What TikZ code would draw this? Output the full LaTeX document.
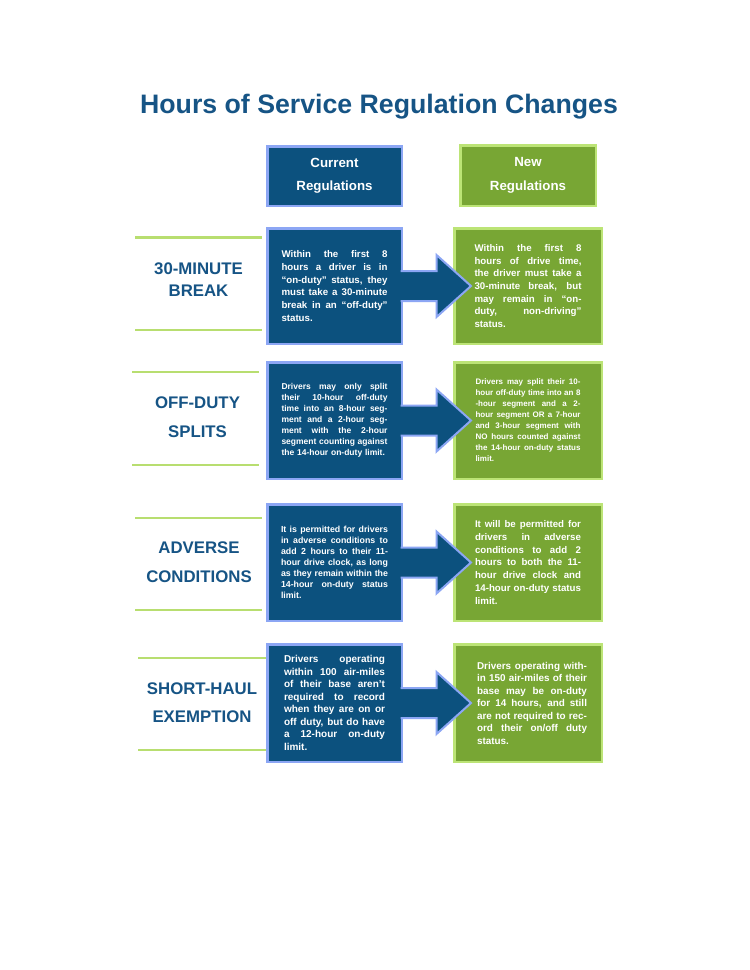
\documentclass[tikz,border=0pt]{standalone}
\usepackage{fontspec}
\setmainfont{Liberation Sans}
\usetikzlibrary{calc}
\setlength\parindent{0pt}
\definecolor{hosnavy}{RGB}{12,81,126}
\definecolor{hostitle}{RGB}{22,84,133}
\definecolor{hosperi}{RGB}{140,166,244}
\definecolor{hosgreen}{RGB}{120,166,52}
\definecolor{hosgreenedge}{RGB}{188,228,118}
\definecolor{hosline}{RGB}{184,222,112}
\newlength\jw
\newlength\jind
\newcommand\jl[1]{\leavevmode\hskip\jind\hbox to \jw{\spaceskip=.278em plus 1fil\relax #1}}
\newcommand\jlast[1]{\leavevmode\hskip\jind #1}
\newcommand\hosarrow[2]{%
  \path[fill=hosnavy] let \p1=(#1.east), \p2=(#2.west) in
    (\x1-2.5pt,\y1+15pt) -- (\x1+33.5pt,\y1+15pt) -- (\x1+33.5pt,\y1+31pt)
    -- (\x2+18pt,\y1) -- (\x1+33.5pt,\y1-31pt) -- (\x1+33.5pt,\y1-15pt)
    -- (\x1-2.5pt,\y1-15pt) -- cycle;
  \draw[arrowedge] let \p1=(#1.east), \p2=(#2.west) in
    (\x1-2.5pt,\y1+15pt) -- (\x1+33.5pt,\y1+15pt) -- (\x1+33.5pt,\y1+31pt)
    -- (\x2+18pt,\y1) -- (\x1+33.5pt,\y1-31pt) -- (\x1+33.5pt,\y1-15pt)
    -- (\x1-2.5pt,\y1-15pt);
}
\begin{document}
\begin{tikzpicture}[x=1pt,y=-1pt,
  curbox/.style={draw=hosperi, fill=hosnavy, line width=2.5pt, inner sep=0pt, text=white, minimum width=134.5pt},
  newbox/.style={draw=hosgreenedge, fill=hosgreen, line width=2.5pt, inner sep=0pt, text=white, minimum width=147.5pt},
  headtext/.style={align=center, font=\fontsize{13.3}{23.5}\selectfont\bfseries},
  body/.style={align=left, text width=#1, execute at begin node={\setlength\jw{#1}\setlength\jind{0pt}}},
  rowlabel/.style={align=center, inner sep=0pt, text=hostitle},
  arrowedge/.style={draw=hosperi, line width=2pt, line join=miter},
  sideline/.style={draw=hosline, line width=2.7pt}]
\useasboundingbox (0,0) rectangle (750,970);
\fill[white] (0,0) rectangle (750,970);

\node[anchor=base, inner sep=0pt, text=hostitle, font=\fontsize{26.7}{30}\selectfont\bfseries] (title) at (379,113.3) {Hours of Service Regulation Changes};

% headers
\node[curbox, headtext, minimum height=59.5pt] (hcur) at (334.5,176) {Current\\Regulations};
\node[newbox, headtext, minimum width=135.5pt, minimum height=60.5pt] (hnew) at (528,175.5) {New\\Regulations};

% side lines
\draw[sideline] (135,237.5) -- (262,237.5);
\draw[sideline] (135,330) -- (262,330);
\draw[sideline] (132,372) -- (259,372);
\draw[sideline] (132,465) -- (259,465);
\draw[sideline] (135,518) -- (262,518);
\draw[sideline] (135,610) -- (262,610);
\draw[sideline] (138,658) -- (266,658);
\draw[sideline] (138,750) -- (266,750);

% row labels
\node[rowlabel, font=\fontsize{16.8}{22}\selectfont\bfseries] (l1) at (198.5,280) {30-MINUTE\\BREAK};
\node[rowlabel, font=\fontsize{16.8}{28.5}\selectfont\bfseries] (l2) at (197.5,417) {OFF-DUTY\\SPLITS};
\node[rowlabel, font=\fontsize{16.8}{28.5}\selectfont\bfseries] (l3) at (199,562) {ADVERSE\\CONDITIONS};
\node[rowlabel, font=\fontsize{16.8}{28.5}\selectfont\bfseries] (l4) at (202,702.5) {SHORT-HAUL\\EXEMPTION};

% row 1
\node[curbox, minimum height=115.5pt, body=106pt, font=\fontsize{9.7}{12.7}\selectfont\bfseries] (c1) at (334.5,286) {%
\jl{Within the first 8}\\
\jl{hours a driver is in}\\
\jl{“on-duty” status, they}\\
\jl{must take a 30-minute}\\
\jl{break in an “off-duty”}\\
\jlast{status.}};
\node[newbox, minimum height=115.5pt, body=107pt, font=\fontsize{9.7}{12.7}\selectfont\bfseries] (n1) at (528,286) {%
\jl{Within the first 8}\\
\jl{hours of drive time,}\\
\jl{the driver must take a}\\
\jl{30-minute break, but}\\
\jl{may remain in “on-}\\
\jl{duty, non-driving”}\\
\jlast{status.}};

% row 2
\node[curbox, minimum height=116.5pt, body=106pt, font=\fontsize{8.5}{11}\selectfont\bfseries] (c2) at (334.5,420.5) {%
\jl{Drivers may only split}\\
\jl{their 10-hour off-duty}\\
\jl{time into an 8-hour seg-}\\
\jl{ment and a 2-hour seg-}\\
\jl{ment with the 2-hour}\\
\jl{segment counting against}\\
\jlast{the 14-hour on-duty limit.}};
\node[newbox, minimum height=116.5pt, body=105pt, font=\fontsize{8.0}{11}\selectfont\bfseries] (n2) at (528,420.5) {%
\jl{Drivers may split their 10-}\\
\jl{hour off-duty time into an 8}\\
\jl{-hour segment and a 2-}\\
\jl{hour segment OR a 7-hour}\\
\jl{and 3-hour segment with}\\
\jl{NO hours counted against}\\
\jl{the 14-hour on-duty status}\\
\jlast{limit.}};

% row 3
\node[curbox, minimum height=116.5pt, body=107pt, font=\fontsize{8.8}{11}\selectfont\bfseries] (c3) at (334.5,562.5) {%
\jl{It is permitted for drivers}\\
\jl{in adverse conditions to}\\
\jl{add 2 hours to their 11-}\\
\jl{hour drive clock, as long}\\
\jl{as they remain within the}\\
\jl{14-hour on-duty status}\\
\jlast{limit.}};
\node[newbox, minimum height=116.5pt, body=106pt, font=\fontsize{9.7}{12.7}\selectfont\bfseries] (n3) at (528,562.5) {%
\jl{It will be permitted for}\\
\jl{drivers in adverse}\\
\jl{conditions to add 2}\\
\jl{hours to both the 11-}\\
\jl{hour drive clock and}\\
\jl{14-hour on-duty status}\\
\jlast{limit.}};

% row 4
\node[curbox, minimum height=117.5pt, body=101pt, font=\fontsize{10}{12.5}\selectfont\bfseries] (c4) at (334.5,703) {%
\jl{Drivers operating}\\
\jl{within 100 air-miles}\\
\jl{of their base aren’t}\\
\jl{required to record}\\
\jl{when they are on or}\\
\jl{off duty, but do have}\\
\jl{a 12-hour on-duty}\\
\jlast{limit.}};
\node[newbox, minimum height=117.5pt, body=118pt, execute at begin node={\setlength\jw{110pt}\setlength\jind{8pt}}, font=\fontsize{9.9}{12.5}\selectfont\bfseries] (n4) at (528,703) {%
\jl{Drivers operating with-}\\
\jl{in 150 air-miles of their}\\
\jl{base may be on-duty}\\
\jl{for 14 hours, and still}\\
\jl{are not required to rec-}\\
\jl{ord their on/off duty}\\
\jlast{status.}};

% arrows
\hosarrow{c1}{n1}
\hosarrow{c2}{n2}
\hosarrow{c3}{n3}
\hosarrow{c4}{n4}
\end{tikzpicture}
\end{document}
